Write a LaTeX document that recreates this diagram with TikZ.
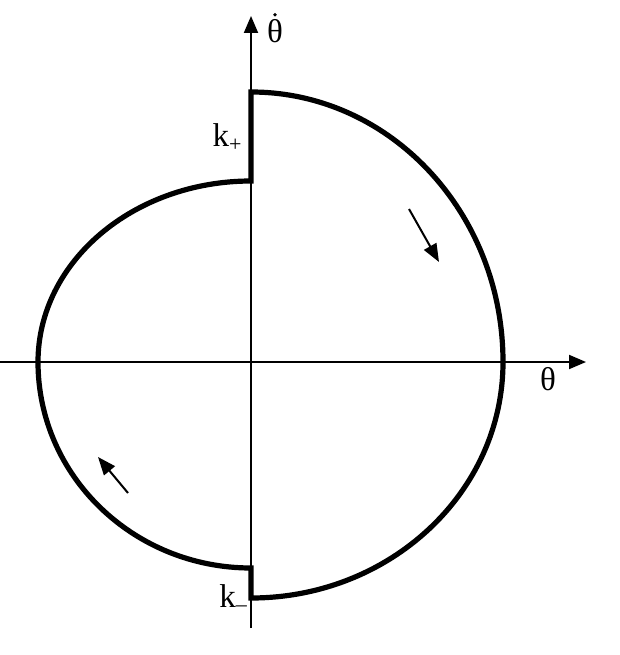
\documentclass[tikz,border=0pt]{standalone}
\usepackage{fontspec}
\setmainfont{Liberation Serif}
\usetikzlibrary{arrows.meta}
\newcommand{\subsym}[2]{\raisebox{#1}{\fontsize{22}{22}\selectfont #2}}
\begin{document}
\begin{tikzpicture}[x=1pt,y=-1pt,
  axis/.style={line width=2pt,-{Triangle[length=17pt,width=14pt]}},
  orbit/.style={line width=5.2pt,line join=miter},
  flow/.style={line width=2pt,-{Triangle[length=18pt,width=14pt]}},
  lbl/.style={font=\fontsize{33}{35}\selectfont,inner sep=0pt}]
\useasboundingbox (0,0) rectangle (620,655);
% axes
\coordinate (xs) at (0,362);
\coordinate (xe) at (586,362);
\coordinate (ys) at (251,628);
\coordinate (ye) at (251,16);
\draw[axis] (xs) -- (xe);
\draw[axis] (ys) -- (ye);
% orbit
\draw[orbit] (251,181) -- (251,92)
  arc[start angle=90,end angle=0,x radius=252pt,y radius=270pt]
  arc[start angle=0,end angle=-90,x radius=252pt,y radius=236pt]
  -- (251,568)
  arc[start angle=-90,end angle=-180,x radius=213pt,y radius=206pt]
  arc[start angle=180,end angle=90,x radius=213pt,y radius=181pt]
  -- cycle;
% direction arrows
\coordinate (a1s) at (409,209);
\coordinate (a1e) at (439,262);
\coordinate (a2s) at (128,493);
\coordinate (a2e) at (98,457);
\draw[flow] (a1s) -- (a1e);
\draw[flow] (a2s) -- (a2e);
% labels
\node[lbl,anchor=base] (thd) at (275,43) {θ};
\fill ([yshift=5pt]thd.north) circle[radius=1.9pt];
\node[lbl,anchor=base] (th) at (548,390) {θ};
\node[lbl,anchor=base] (kp) at (227,147) {k\subsym{-5pt}{+}};
\node[lbl,anchor=base] (km) at (233,607) {k\subsym{-4pt}{–}};
\end{tikzpicture}
\end{document}
